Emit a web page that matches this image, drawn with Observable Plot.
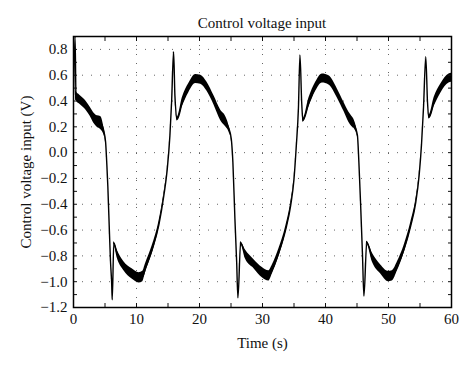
<!DOCTYPE html>
<html><head><meta charset="utf-8">
<script src="https://cdn.jsdelivr.net/npm/d3@7"></script>
<script src="https://cdn.jsdelivr.net/npm/@observablehq/plot@0.6"></script>
<style>
body{margin:0;background:#fff;font-family:"Liberation Serif","Times New Roman",serif;}
#wrap{width:474px;height:367px;position:relative;overflow:hidden;}
#title{height:30px;width:474px;position:relative;}
#title span{position:absolute;left:262px;top:16px;transform:translateX(-50%);font-size:15px;line-height:1;white-space:nowrap;color:#111;}
</style>
</head><body>
<div id="wrap"><div id="title"><span>Control voltage input</span></div><div id="chart"></div></div>
<script>
// Time (s)
const time = [0,0.25,0.4,1.0,1.9,2.6,3.2,3.8,4.3,4.8,5.1,5.3,5.45,5.72,5.88,6.05,6.15,6.4,6.9,8.0,9.3,10.4,11.0,11.4,12.5,13.55,14.35,14.88,15.3,15.57,15.89,16.1,16.47,17.27,18.3,19.4,20.2,
21.2,22.3,23.35,24.15,24.67,25.05,25.3,25.62,25.9,26.1,26.53,27.3,28.65,29.97,31.0,31.56,32.6,33.7,34.47,35.0,35.37,35.7,35.95,36.22,36.43,37.38,38.44,39.5,40.55,
41.9,42.94,43.7,44.2,44.5,45.07,45.3,45.6,45.86,46.1,46.55,47.45,48.77,50.0,50.6,51.42,52.47,53.53,54.33,54.86,55.23,55.55,55.92,56.19,56.44,57.24,58.3,59.6,60];
// Control voltage (V)
const volts = [0.45,0.9,0.44,0.41,0.37,0.32,0.27,0.24,0.23,0.17,0.08,-0.1,-0.26,-0.64,-0.85,-1.0,-1.14,-0.70,-0.78,-0.88,-0.94,-0.97,-0.96,-0.90,-0.75,-0.56,-0.33,-0.13,0.13,0.39,0.78,0.44,0.26,0.39,0.50,0.57,0.565,
0.51,0.405,0.29,0.24,0.185,0.105,-0.075,-0.51,-0.85,-1.125,-0.70,-0.79,-0.865,-0.93,-0.955,-0.905,-0.775,-0.593,-0.41,-0.205,0.055,0.34,0.755,0.39,0.25,0.39,0.51,0.575,0.56,
0.457,0.353,0.275,0.24,0.224,0.133,-0.075,-0.435,-0.775,-1.112,-0.697,-0.814,-0.905,-0.96,-0.955,-0.88,-0.749,-0.567,-0.386,-0.178,0.055,0.34,0.742,0.392,0.275,0.392,0.496,0.574,0.58];
// Noise half-width of the trace (V)
const noise = [0.01,0.005,0.035,0.035,0.035,0.035,0.04,0.045,0.05,0.03,0.01,0.005,0.005,0.005,0.005,0.005,0.005,0.01,0.03,0.035,0.04,0.04,0.04,0.035,0.03,0.025,0.015,0.01,0.005,0.005,0.005,0.005,0.015,0.035,0.035,0.035,0.035,
0.035,0.035,0.04,0.04,0.025,0.01,0.005,0.005,0.005,0.005,0.01,0.035,0.035,0.04,0.04,0.035,0.03,0.025,0.02,0.01,0.005,0.005,0.005,0.005,0.015,0.035,0.035,0.035,0.035,
0.035,0.035,0.04,0.04,0.035,0.01,0.005,0.005,0.005,0.005,0.01,0.035,0.035,0.04,0.04,0.035,0.03,0.025,0.02,0.01,0.005,0.005,0.005,0.005,0.015,0.035,0.035,0.035,0.035];

const xTicks = [0,5,10,15,20,25,30,35,40,45,50,55,60];
const xLabels = [0,10,20,30,40,50,60];
const yTicks = [-1.2,-1.1,-1.0,-0.9,-0.8,-0.7,-0.6,-0.5,-0.4,-0.3,-0.2,-0.1,0,0.1,0.2,0.3,0.4,0.5,0.6,0.7,0.8,0.9];
const yLabels = [-1.2,-1.0,-0.8,-0.6,-0.4,-0.2,0,0.2,0.4,0.6,0.8];
const xGrid = [10,20,30,40,50];
const yGrid = [-1.0,-0.8,-0.6,-0.4,-0.2,0,0.2,0.4,0.6,0.8];

const data = time.map((t,i)=>({t, v: volts[i], lo: volts[i]-noise[i], hi: volts[i]+noise[i]}));
const fmtY = d3.format(".1f");

const chart = Plot.plot({
  width: 474, height: 337,
  marginLeft: 73, marginRight: 23, marginTop: 6, marginBottom: 60,
  style: {fontFamily: '"Liberation Serif","Times New Roman",serif', fontSize: "15px", color: "#111", background: "#fff"},
  x: {domain: [0,60]},
  y: {domain: [-1.2,0.9]},
  marks: [
    Plot.gridX(xGrid, {stroke: "#666", strokeOpacity: 1, strokeDasharray: "1,8"}),
    Plot.gridY(yGrid, {stroke: "#666", strokeOpacity: 1, strokeDasharray: "1,8"}),
    Plot.areaY(data, {x: "t", y1: "lo", y2: "hi", fill: "#000", curve: "monotone-x", clip: true}),
    Plot.line(data, {x: "t", y: "v", stroke: "#000", strokeWidth: 1.4, curve: "monotone-x", clip: true}),
    // inward ticks on all four sides
    Plot.axisX(xTicks, {anchor: "bottom", tickSize: -4, tickFormat: () => "", label: null}),
    Plot.axisX(xTicks, {anchor: "top", tickSize: -4, tickFormat: () => "", label: null}),
    Plot.axisY(yTicks, {anchor: "left", tickSize: -4, tickFormat: () => "", label: null}),
    Plot.axisY(yTicks, {anchor: "right", tickSize: -4, tickFormat: () => "", label: null}),
    // labels
    Plot.axisX(xLabels, {anchor: "bottom", tickSize: 0, tickPadding: 6, tickFormat: d => String(d), label: "Time (s)", labelAnchor: "center", labelArrow: "none", labelOffset: 40, fontSize: 15}),
    Plot.axisY(yLabels, {anchor: "left", tickSize: 0, tickPadding: 6, tickFormat: fmtY, label: "Control voltage input (V)", labelAnchor: "center", labelArrow: "none", labelOffset: 53, fontSize: 15}),
    Plot.frame({stroke: "#000", strokeWidth: 1.5})
  ]
});
document.getElementById("chart").appendChild(chart);
</script>
</body></html>
